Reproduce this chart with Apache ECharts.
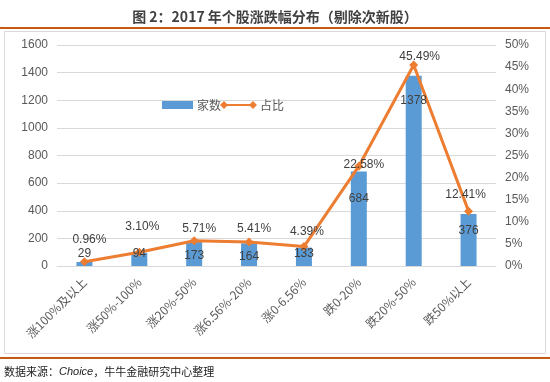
<!DOCTYPE html>
<html>
<head>
<meta charset="utf-8">
<script src="https://cdn.jsdelivr.net/npm/echarts@6/dist/echarts.min.js"></script>
<style>
html,body{margin:0;padding:0;background:#fff;}
#chart{width:550px;height:382px;}
</style>
</head>
<body>
<div id="chart"></div>
<script>
// ---- data ----
var categories = ['涨100%及以上', '涨50%-100%', '涨20%-50%', '涨6.56%-20%', '涨0-6.56%', '跌0-20%', '跌20%-50%', '跌50%以上'];
var counts = [29, 94, 173, 164, 133, 684, 1378, 376];
var shares = [0.0096, 0.0310, 0.0571, 0.0541, 0.0439, 0.2258, 0.4549, 0.1241];
var leftTicks = [0, 200, 400, 600, 800, 1000, 1200, 1400, 1600];
var rightTicks = ['0%', '5%', '10%', '15%', '20%', '25%', '30%', '35%', '40%', '45%', '50%'];

// ---- label placement styling (kept separate from data) ----
var barLabelDy = [-14, -5, 8, 7, 0, 21, 19, 11];
var lineLabelOff = [[5, -22], [3, -26], [5, -12], [5, -13], [3, -15], [5, -2], [6, -8], [-3, -16]];

var labelFont = 'Liberation Sans, Noto Sans CJK SC, sans-serif';
var chart = echarts.init(document.getElementById('chart'), null, {renderer: 'canvas'});

var barLabelData = counts.map(function (v, i) {
  return {value: v, label: {offset: [0, barLabelDy[i]]}};
});
var lineData = shares.map(function (v, i) {
  return {value: v, label: {offset: lineLabelOff[i]}};
});

var linePath = 'path://M0,4L4,0L8,4L4,8Z M4,3L33,3L33,5L4,5Z M29,4L33,0L37,4L33,8Z';

chart.setOption({
  backgroundColor: '#ffffff',
  animation: false,
  title: {
    text: '图 2：2017 年个股涨跌幅分布（剔除次新股）',
    left: 'center',
    top: 5,
    textStyle: {fontSize: 14, fontWeight: 'bold', color: '#404040', fontFamily: 'Noto Sans CJK SC, sans-serif'}
  },
  graphic: [
    {type: 'rect', shape: {x: 0, y: 27, width: 550, height: 2}, style: {fill: '#C55A11'}, silent: true},
    {type: 'rect', shape: {x: 4.5, y: 31.5, width: 541, height: 322}, style: {fill: 'none', stroke: '#d9d9d9', lineWidth: 1}, silent: true},
    {type: 'rect', shape: {x: 0, y: 357, width: 550, height: 2}, style: {fill: '#C55A11'}, silent: true},
    {type: 'text', x: 4, y: 372, silent: true,
      style: {
        text: '数据来源：{b|Choice}，牛牛金融研究中心整理',
        fontSize: 11, fill: '#222', verticalAlign: 'middle',
        fontFamily: 'Noto Sans CJK SC, sans-serif',
        rich: {b: {fontStyle: 'italic', fontSize: 11, fill: '#222', fontFamily: 'Liberation Sans, sans-serif'}}
      }}
  ],
  legend: [
    {
      data: ['家数'], left: 157, top: 94, itemWidth: 31, itemHeight: 8, itemGap: 5,
      icon: 'rect',
      textStyle: {fontSize: 12, color: '#595959', fontFamily: 'Noto Sans CJK SC, sans-serif', padding: [0, 0, 0, -1]}
    },
    {
      data: [{name: '占比', icon: linePath}], left: 215, top: 94, itemWidth: 37, itemHeight: 8,
      textStyle: {fontSize: 12, color: '#595959', fontFamily: 'Noto Sans CJK SC, sans-serif', padding: [0, 0, 0, -2]}
    }
  ],
  grid: {left: 57, right: 54, top: 45, bottom: 116, containLabel: false},
  xAxis: {
    type: 'category',
    data: categories,
    axisLine: {lineStyle: {color: '#d9d9d9'}},
    axisTick: {show: false},
    axisLabel: {rotate: 45, interval: 0, margin: 14, fontSize: 12, color: '#595959', fontFamily: 'Noto Sans CJK SC, sans-serif'}
  },
  yAxis: [
    {
      type: 'value', min: leftTicks[0], max: leftTicks[leftTicks.length - 1], interval: leftTicks[1] - leftTicks[0],
      axisLine: {show: false}, axisTick: {show: false},
      splitLine: {lineStyle: {color: '#d9d9d9'}},
      axisLabel: {fontSize: 12, color: '#595959', margin: 9, fontFamily: labelFont,
        formatter: function (v) { return String(leftTicks[Math.round(v / 200)]); }}
    },
    {
      type: 'value', min: 0, max: 0.5, interval: 0.05,
      axisLine: {show: false}, axisTick: {show: false},
      splitLine: {show: false},
      axisLabel: {
        fontSize: 12, color: '#595959', margin: 9, fontFamily: labelFont,
        formatter: function (v) { return rightTicks[Math.round(v / 0.05)]; }
      }
    }
  ],
  series: [
    {
      name: '家数', type: 'bar', data: counts, barWidth: 16, z: 2,
      itemStyle: {color: '#5B9BD5'}
    },
    {
      name: '占比', type: 'line', yAxisIndex: 1, data: lineData, z: 3,
      symbol: 'diamond', symbolSize: 9,
      lineStyle: {color: '#ED7D31', width: 3},
      itemStyle: {color: '#ED7D31'},
      label: {
        show: true, position: 'inside', fontSize: 12, color: '#404040', fontFamily: labelFont,
        formatter: function (p) { return (p.value * 100).toFixed(2) + '%'; }
      }
    },
    {
      name: '家数标签', type: 'bar', data: barLabelData, barWidth: 16, barGap: '-100%', z: 5, silent: true,
      itemStyle: {color: 'rgba(0,0,0,0)'},
      label: {show: true, position: 'insideTop', distance: 0, fontSize: 12, color: '#404040', fontFamily: labelFont}
    }
  ]
});
</script>
</body>
</html>
